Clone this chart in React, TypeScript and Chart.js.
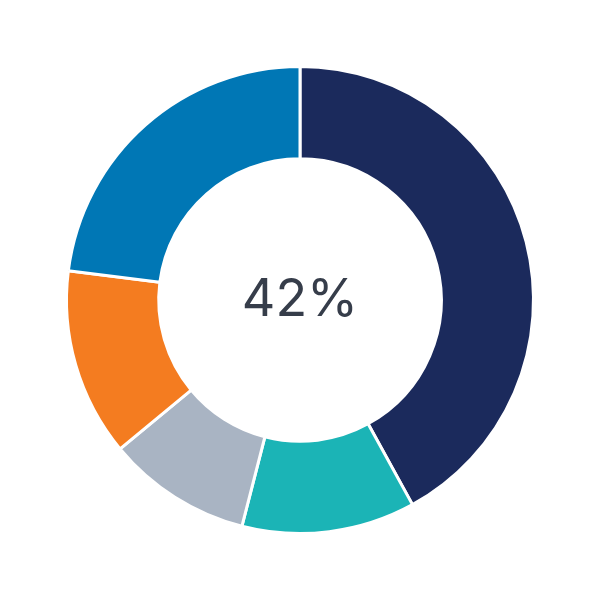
import { useEffect, useRef } from "react"
import { Chart, registerables } from "chart.js"

Chart.register(...registerables)

const segments = ["Navy", "Teal", "Gray", "Orange", "Blue"]
const values = [42, 12, 10, 13, 23]
const colors = ["#1b2a5c", "#1bb4b6", "#a9b4c3", "#f47c20", "#0077b5"]
const centerLabel = "42%"

const centerText = {
  id: "centerText",
  afterDraw(chart: Chart) {
    const { ctx, chartArea } = chart
    const x = (chartArea.left + chartArea.right) / 2
    const y = (chartArea.top + chartArea.bottom) / 2
    ctx.save()
    ctx.font = "400 52px Inter, 'Noto Sans', sans-serif"
    ctx.fillStyle = "#363d4a"
    ctx.textAlign = "center"
    ctx.textBaseline = "middle"
    ctx.fillText(centerLabel, x, y)
    ctx.restore()
  },
}

export default function App() {
  const chartRef = useRef<HTMLCanvasElement>(null)
  const chartInstance = useRef<Chart | null>(null)

  useEffect(() => {
    if (!chartRef.current) return
    if (chartInstance.current) chartInstance.current.destroy()

    const ctx = chartRef.current.getContext("2d")
    if (ctx) {
      chartInstance.current = new Chart(ctx, {
        type: "doughnut",
        data: {
          labels: segments,
          datasets: [
            {
              data: values,
              backgroundColor: colors,
              borderColor: "#ffffff",
              borderWidth: 3,
            },
          ],
        },
        options: {
          animation: false,
          responsive: true,
          maintainAspectRatio: false,
          cutout: "60.5%",
          layout: { padding: 65 },
          plugins: {
            legend: { display: false },
            tooltip: { enabled: false },
          },
        },
        plugins: [centerText],
      })
    }

    return () => {
      if (chartInstance.current) {
        chartInstance.current.destroy()
        chartInstance.current = null
      }
    }
  }, [])

  return (
    <div style={{ position: "fixed", left: 0, top: 0, width: 600, height: 600, background: "#fff" }}>
      <canvas ref={chartRef} />
    </div>
  )
}
